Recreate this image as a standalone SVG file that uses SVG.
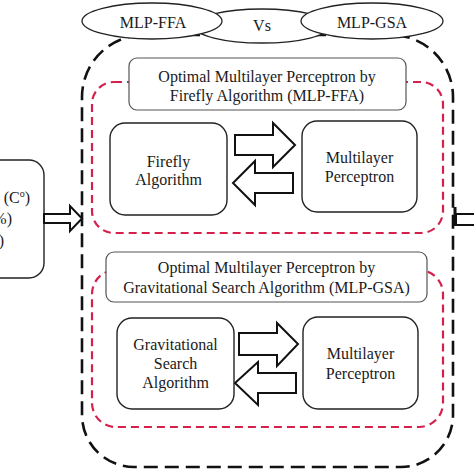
<svg xmlns="http://www.w3.org/2000/svg" width="474" height="474" viewBox="0 0 474 474">
<style>
text{font-family:"Liberation Serif","Times New Roman",serif;font-size:16px;fill:#1a1a1a}
.c{text-anchor:middle}
.e{text-anchor:end}
.box{fill:#fff;stroke:#222;stroke-width:1.4}
.title{fill:#fff;stroke:#555;stroke-width:1.2}
.ell{fill:#fff;stroke:#222;stroke-width:1.3}
.outer{fill:none;stroke:#111;stroke-width:2.6;stroke-dasharray:14 7}
.red{fill:none;stroke:#d6204c;stroke-width:2.2;stroke-dasharray:8 5}
.arr{fill:#fff;stroke:#111;stroke-width:2;stroke-linejoin:miter}
</style>
<rect width="474" height="474" fill="#fff"/>
<g id="outer-frame">
<path class="outer" d="M144 35 H391 A62 62 0 0 1 453 97 V415 A52 52 0 0 1 401 467 H134 A52 52 0 0 1 82 415 V97 A62 62 0 0 1 144 35 Z"/>
</g>
<g id="frame-ffa"><rect class="red" x="92" y="82" width="351" height="151" rx="22"/></g>
<g id="frame-gsa"><rect class="red" x="92" y="270" width="351" height="157" rx="24"/></g>
<g id="vs">
<ellipse class="ell" cx="262" cy="26" rx="68" ry="17"/>
<text class="c" x="262" y="31">Vs</text>
</g>
<g id="mlp-ffa">
<ellipse class="ell" cx="152" cy="21" rx="70" ry="18"/>
<text class="c" x="153" y="28">MLP-FFA</text>
</g>
<g id="mlp-gsa">
<ellipse class="ell" cx="372" cy="21" rx="71" ry="18"/>
<text class="c" x="372" y="28">MLP-GSA</text>
</g>
<g id="inputs">
<rect class="box" x="-20" y="160" width="64" height="118" rx="15" stroke-width="2"/>
<text class="e" x="30" y="203">(C<tspan font-size="10" dy="-6">o</tspan><tspan dy="6">)</tspan></text>
<text class="e" x="12" y="224">%)</text>
<text class="e" x="4" y="246">)</text>
</g>
<g id="title-ffa">
<rect class="title" x="129" y="58" width="277" height="52" rx="8"/>
<text class="c" x="267" y="82">Optimal Multilayer Perceptron by</text>
<text class="c" x="267" y="101">Firefly Algorithm (MLP-FFA)</text>
</g>
<g id="firefly">
<rect class="box" x="110" y="123" width="117" height="92" rx="15"/>
<text class="c" x="168.5" y="167">Firefly</text>
<text class="c" x="168.5" y="185">Algorithm</text>
</g>
<g id="mlp1">
<rect class="box" x="302" y="121" width="115" height="91" rx="15"/>
<text class="c" x="359.5" y="163">Multilayer</text>
<text class="c" x="359.5" y="182">Perceptron</text>
</g>
<g id="title-gsa">
<rect class="title" x="106" y="252" width="321" height="50" rx="8"/>
<text class="c" x="266.5" y="273">Optimal Multilayer Perceptron by</text>
<text class="c" x="266.5" y="293">Gravitational Search Algorithm (MLP-GSA)</text>
</g>
<g id="gsa">
<rect class="box" x="117" y="318" width="117" height="91" rx="15"/>
<text class="c" x="175.5" y="350">Gravitational</text>
<text class="c" x="175.5" y="369">Search</text>
<text class="c" x="175.5" y="388">Algorithm</text>
</g>
<g id="mlp2">
<rect class="box" x="303" y="317" width="115" height="92" rx="15"/>
<text class="c" x="360.5" y="359">Multilayer</text>
<text class="c" x="360.5" y="379">Perceptron</text>
</g>
<g id="connectors">
<polygon class="arr" points="44,214 70,214 70,206 82,218.5 70,231 70,223 44,223"/>
<polygon class="arr" points="235,135 273,135 273,123 295,145 273,167 273,155 235,155"/>
<polygon class="arr" points="293,173 255,173 255,161 233,183 255,205 255,193 293,193"/>
<polygon class="arr" points="239,333 277,333 277,323 298,344 277,366 277,355 239,355"/>
<polygon class="arr" points="296,373 258,373 258,362 235,383 258,405 258,393 296,393"/>
<path class="arr" d="M474 214 H456 V225 H474"/>
<line x1="455" y1="207" x2="455" y2="226" stroke="#111" stroke-width="3"/>
</g>
</svg>
